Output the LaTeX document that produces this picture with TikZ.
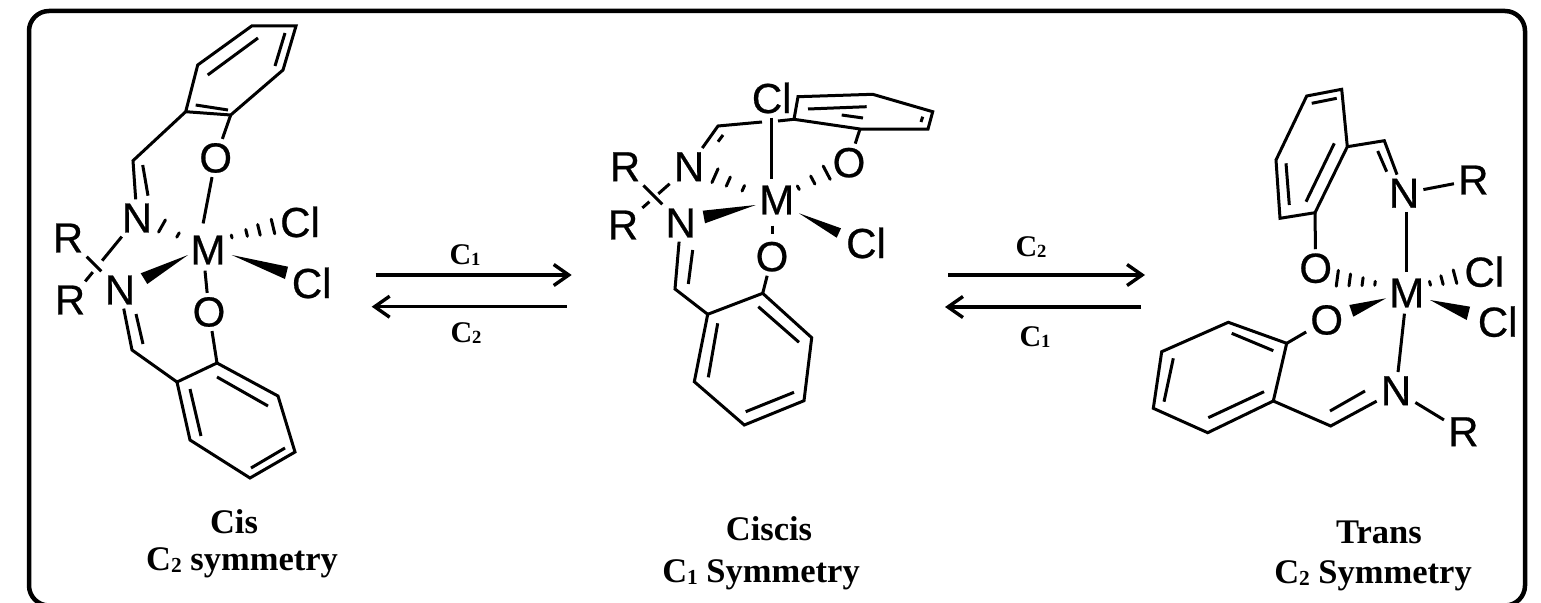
\documentclass[tikz,border=0pt]{standalone}
\usepackage{fontspec}
\usetikzlibrary{calc,arrows.meta}
\newfontfamily\atomfamily[FakeBold=0.6]{Liberation Sans}
\newfontfamily\labelfamily{Liberation Serif}
\newcommand{\lowdigit}[1]{\raisebox{-.06em}{\scalebox{.62}{#1}}}
\newcommand{\hashbond}[3]{\coordinate (hashtarget) at ($(#1)!2!(#2)$);
  \foreach \p/\h in {#3}{\draw[bond,line cap=round] ($(#1)!\p!(#2)!\h!90:(hashtarget)$) -- ($(#1)!\p!(#2)!-\h!90:(hashtarget)$);}}
\tikzset{
  bond/.style={line width=3pt},
  atom/.style={font=\atomfamily\fontsize{42}{42}\selectfont,inner sep=4pt},
  metal/.style={atom,inner sep=6pt},
  caption/.style={font=\labelfamily\bfseries\fontsize{34.5}{34.5}\selectfont,anchor=base,inner sep=0pt},
  ratelabel/.style={font=\labelfamily\bfseries\fontsize{30}{30}\selectfont,anchor=base,inner sep=0pt},
  equilibrium/.style={line width=3.4pt,-{Straight Barb[length=15pt,width=21pt,line width=3.4pt]}}
}
\begin{document}
\begin{tikzpicture}[x=1pt,y=-1pt]
       \useasboundingbox (0,0) rectangle (1541,602);
       \fill[white] (0,0) rectangle (1541,602);
       \draw[line width=4.5pt,rounded corners=20pt] (29,11) rectangle (1525,605.5);

       % left complex
       \node[metal] (M1) at (208,250) {M};
       \node[atom] (N1a) at (137,218) {N};
       \node[atom] (N1b) at (120,290) {N};
       \node[atom] (O1a) at (215.7,158) {O};
       \node[atom] (O1b) at (209,312) {O};
       \node[atom] (Cl1a) at (300,222) {Cl};
       \node[atom] (Cl1b) at (311.7,283) {Cl};
       \node[atom] (R1a) at (68,238) {R};
       \node[atom] (R1b) at (70,300) {R};
       \foreach \n/\x/\y in {a1/251.7/26,a2/296/26,a3/283/70,a4/230.7/115,a5/185.7/111.7,a6/197.7/65,a7/133/160.7,
         b1/217/363,b2/278/396,b3/295/452,b4/250/478,b5/190/440,b6/177/382,b7/132/350,
         h1/178/235,h2/162/226,h3/231.7/236.5,h4/273/226.5}{\coordinate (\n) at (\x,\y);}
       \draw[bond] (a1) -- (a2) -- (a3) -- (a4) -- (a5) -- (a6) -- cycle;
       \draw[bond] (a5) -- (a7) -- (N1a);
       \draw[bond] (a4) -- (O1a);
       \draw[bond,shorten >=6pt] (O1a) -- ([xshift=-6pt]M1.north);
       \draw[bond] (b1) -- (b2) -- (b3) -- (b4) -- (b5) -- (b6) -- cycle;
       \draw[bond] (b6) -- (b7) -- (N1b);
       \draw[bond] (b1) -- (O1b) -- ([xshift=-3pt]M1.south);
       \draw[bond] (R1a) -- (N1b);
       \draw[bond] (N1a) -- ($(N1a)!.52!(R1b)$);
       \draw[bond] ($(N1a)!.66!(R1b)$) -- (R1b);
       \hashbond{h1}{h2}{0/2.5pt,1/7pt}
       \hashbond{h3}{h4}{0/1.5pt,.36/3.5pt,.66/5.5pt,1/7.5pt}
       \foreach \xa/\ya/\xb/\yb/\xc/\yc in {188/255/140.7/273.3/147.3/284,231.7/255/288/266.7/285/279}{
         \fill (\xa,\ya) -- (\xb,\yb) -- (\xc,\yc) -- cycle;}
       \foreach \xa/\ya/\xb/\yb in {258/38/207.7/75,285/33/275/66,195.7/105/228/110,142.7/165/148/195.7,
         217/377/268/406,285/448/251/468,190/389/201/436,143/344/136/314}{
         \draw[bond] (\xa,\ya) -- (\xb,\yb);}

       % middle complex
       \node[metal] (M2) at (776.7,200) {M};
       \node[atom] (N2a) at (689,166.7) {N};
       \node[atom] (N2b) at (680.7,223) {N};
       \node[atom] (O2a) at (849,162.7) {O};
       \node[atom] (O2b) at (772,256.7) {O};
       \node[atom] (Cl2a) at (771.7,98) {Cl};
       \node[atom] (Cl2b) at (866,243) {Cl};
       \node[atom] (R2a) at (625,166.7) {R};
       \node[atom] (R2b) at (623,225) {R};
       \foreach \n/\x/\y in {c1/798/96.7,c2/872.7/94.3,c3/932.7/111.7,c4/928/129,c5/860/129,c6/794/119.3,c7/718/126,
         d1/762.7/293.3,d2/811.7/337.7,d3/804/400.7,d4/744.3/425,d5/694.3/381.7,d6/707.7/314.3,d7/675/289,
         h5/743.3/188.3,h6/715/175.7,h7/798.3/187.7,h8/826.7/172.7}{\coordinate (\n) at (\x,\y);}
       \draw[bond] (c1) -- (c2) -- (c3) -- (c4) -- (c5) -- (c6) -- cycle;
       \draw[bond] (c6) -- (778,121) (762,122) -- (c7) -- (N2a);
       \draw[bond] (c5) -- (O2a);
       \draw[bond] (Cl2a.south) -- (Cl2a.south |- M2.north);
       \draw[bond,shorten <=5pt,shorten >=4pt] (O2b.north |- M2.south) -- (O2b.north);
       \draw[bond] (O2b) -- (d1);
       \draw[bond] (d1) -- (d2) -- (d3) -- (d4) -- (d5) -- (d6) -- cycle;
       \draw[bond] (d6) -- (d7) -- (N2b);
       \draw[bond] (R2a) -- (N2b);
       \draw[bond] (N2a) -- ($(N2a)!.465!(R2b)$);
       \draw[bond] ($(N2a)!.6!(R2b)$) -- (R2b);
       \hashbond{h5}{h6}{0/3pt,.53/5pt,1/7.5pt}
       \hashbond{h7}{h8}{0/2pt,.51/4.5pt,1/7.5pt}
       \foreach \xa/\ya/\xb/\yb/\xc/\yc in {755.7/205/702.7/210.7/705/223.3,799/213.3/841/228.3/836.7/237.7}{
         \fill (\xa,\ya) -- (\xb,\yb) -- (\xc,\yc) -- cycle;}
       \foreach \xa/\ya/\xb/\yb in {808/109/866.7/106.7,841.7/115/863/118,922.7/116.7/921/122,723/135/718/141.7,
         758.3/306.7/799/342.3,794/392.3/745.7/411.7,717.7/323.3/708.3/377.3,688.3/284/692.7/250}{
         \draw[bond] (\xa,\ya) -- (\xb,\yb);}

       % right complex
       \node[metal] (M3) at (1406.7,293) {M};
       \node[atom] (N3a) at (1404,193.3) {N};
       \node[atom] (N3b) at (1396,390.7) {N};
       \node[atom] (O3a) at (1315.7,268.3) {O};
       \node[atom] (O3b) at (1326.7,320) {O};
       \node[atom] (Cl3a) at (1484.3,271.7) {Cl};
       \node[atom] (Cl3b) at (1497.7,321.7) {Cl};
       \node[atom] (R3a) at (1473.3,180) {R};
       \node[atom] (R3b) at (1463.3,431.7) {R};
       \foreach \n/\x/\y in {e1/1341.7/89.3,e2/1306.7/96,e3/1276/160,e4/1280/218.3,e5/1315/212.7,e6/1347.3/146.7,e7/1384.3/140.7,
         f1/1286.7/343.3,f2/1228.3/322.3,f3/1161.7/351.7,f4/1153.3/408.3,f5/1207.7/432.7,f6/1273.3/401,f7/1330.7/426,
         h9/1337.3/278.3,h10/1375/283.3,h11/1430/283.3,h12/1455/276.7}{\coordinate (\n) at (\x,\y);}
       \draw[bond] (e1) -- (e2) -- (e3) -- (e4) -- (e5) -- (e6) -- cycle;
       \draw[bond] (e6) -- (e7) -- (N3a) -- (R3a);
       \draw[bond] (N3a.south -| M3.north) -- (M3.north);
       \draw[bond] (M3) -- (N3b) -- (R3b);
       \draw[bond] (e5) -- (O3a);
       \draw[bond] (f1) -- (f2) -- (f3) -- (f4) -- (f5) -- (f6) -- cycle;
       \draw[bond] (f1) -- (O3b);
       \draw[bond] (f6) -- (f7) -- (N3b);
       \hashbond{h9}{h10}{0/8pt,.33/6pt,.67/4pt,1/2pt}
       \hashbond{h11}{h12}{0/2pt,.48/4.5pt,1/7pt}
       \foreach \xa/\ya/\xb/\yb/\xc/\yc in {1386/298.3/1349.3/305/1353.3/316.7,1430/300/1470/306.7/1466.7/320}{
         \fill (\xa,\ya) -- (\xb,\yb) -- (\xc,\yc) -- cycle;}
       \foreach \xa/\ya/\xb/\yb in {1311.7/103.3/1336.7/98.3,1286/163.3/1289.3/205,1306/201.7/1334.3/143.3,1377.7/151/1386.7/171.7,
         1231.7/333.3/1273.3/350.7,1173.3/358.3/1164/401.7,1208.3/417.7/1264/391.7,1330/411/1365/391}{
         \draw[bond] (\xa,\ya) -- (\xb,\yb);}

       % arrows
       \foreach \n/\x/\y in {p1/375.7/275,p2/571.7/275,p3/566.7/306.7,p4/371.7/306.7,
         q1/948/275,q2/1145/275,q3/1141/307,q4/945/307}{\coordinate (\n) at (\x,\y);}
       \draw[equilibrium] (p1) -- (p2);
       \draw[equilibrium] (p3) -- (p4);
       \draw[equilibrium] (q1) -- (q2);
       \draw[equilibrium] (q3) -- (q4);
       \node[ratelabel] (k1) at (465,264) {C\lowdigit{1}};
       \node[ratelabel] (k2) at (466,342) {C\lowdigit{2}};
       \node[ratelabel] (k3) at (1031,256) {C\lowdigit{2}};
       \node[ratelabel] (k4) at (1035,346) {C\lowdigit{1}};

       \node[caption] (t1) at (234,533) {Cis};
       \node[caption] (s1) at (242,570) {C\lowdigit{2} symmetry};
       \node[caption] (t2) at (769,540) {Ciscis};
       \node[caption] (s2) at (761,582) {C\lowdigit{1} Symmetry};
       \node[caption] (t3) at (1379,543) {Trans};
       \node[caption] (s3) at (1373,583) {C\lowdigit{2} Symmetry};
\end{tikzpicture}
\end{document}
